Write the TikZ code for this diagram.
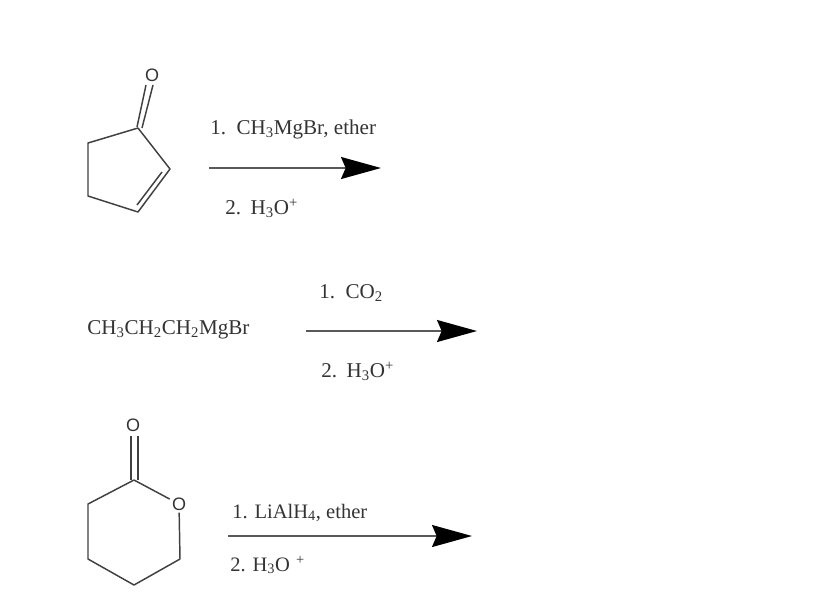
\documentclass[tikz,border=0pt]{standalone}
\usepackage{fontspec}
\setmainfont{Liberation Serif}
\newfontfamily\atomfont{Liberation Sans}
\usetikzlibrary{arrows.meta}
\tikzset{
  bond/.style={line width=1.1pt,draw=black!75,line join=round},
  rxnarrow/.style={line width=1.3pt,draw=black!65,
    -{Stealth[length=30pt,width=16.5pt,inset=3.5pt,color=black]},shorten >=0pt},
  reagent/.style={anchor=base west,inner sep=0pt,text=black!80,font=\fontsize{15.8}{18}\selectfont},
  reagentsmall/.style={reagent,font=\fontsize{15.4}{18}\selectfont},
  atom/.style={inner sep=1.5pt,text=black!80,font=\atomfont\fontsize{13.5}{16}\selectfont}
}
\begin{document}
\begin{tikzpicture}[x=0.75pt,y=-0.75pt]
  \useasboundingbox (0,0) rectangle (820,612);

  % cyclopentenone
  \coordinate (a1) at (138,128);
  \coordinate (a2) at (170,169);
  \coordinate (a3) at (138,212);
  \coordinate (a4) at (88,196);
  \coordinate (a5) at (88,143);
  \node[atom] (aO) at (152,75) {O};
  \draw[bond] (a1) -- (a2) -- (a3) -- (a4) -- (a5) -- cycle;
  \coordinate (a6) at (162,172);
  \coordinate (a7) at (137,205);
  \draw[bond] (a6) -- (a7);
  \coordinate (a8) at (137,127);
  \coordinate (a9) at (146,85);
  \coordinate (a10) at (142,128);
  \coordinate (a11) at (153,85);
  \draw[bond] (a8) -- (a9);
  \draw[bond] (a10) -- (a11);

  \coordinate (s1) at (209,168);
  \coordinate (e1) at (381,168);
  \draw[rxnarrow] (s1) -- (e1);
  \node[reagent] (r1a) at (210,134) {1.\hspace{0.5em}CH\textsubscript{3}MgBr, ether};
  \node[reagent] (r1b) at (225,214) {2.\hspace{0.45em}H\textsubscript{3}O\textsuperscript{+}};

  % grignard
  \node[reagent] (grig) at (87,334) {CH\textsubscript{3}CH\textsubscript{2}CH\textsubscript{2}MgBr};
  \coordinate (s2) at (306,331);
  \coordinate (e2) at (477,331);
  \draw[rxnarrow] (s2) -- (e2);
  \node[reagent] (r2a) at (319,298) {1.\hspace{0.5em}CO\textsubscript{2}};
  \node[reagent] (r2b) at (321,377) {2.\hspace{0.45em}H\textsubscript{3}O\textsuperscript{+}};

  % lactone
  \coordinate (c1) at (134,480);
  \node[atom] (cO1) at (179,504) {O};
  \coordinate (c3) at (180,559);
  \coordinate (c4) at (134,585);
  \coordinate (c5) at (88,559);
  \coordinate (c6) at (88,504);
  \node[atom] (cO2) at (133,425) {O};
  \draw[bond] (c1) -- (cO1) -- (c3) -- (c4) -- (c5) -- (c6) -- (c1);
  \coordinate (c7) at (131,480);
  \coordinate (c8) at (131,436);
  \coordinate (c9) at (138,480);
  \coordinate (c10) at (138,436);
  \draw[bond] (c7) -- (c8);
  \draw[bond] (c9) -- (c10);

  \coordinate (s3) at (228,536);
  \coordinate (e3) at (472,536);
  \draw[rxnarrow] (s3) -- (e3);
  \node[reagentsmall] (r3a) at (232,518) {1. LiAlH\textsubscript{4}, ether};
  \node[reagentsmall] (r3b) at (230,571) {2. H\textsubscript{3}O\hspace{0.3em}\textsuperscript{+}};
\end{tikzpicture}
\end{document}
